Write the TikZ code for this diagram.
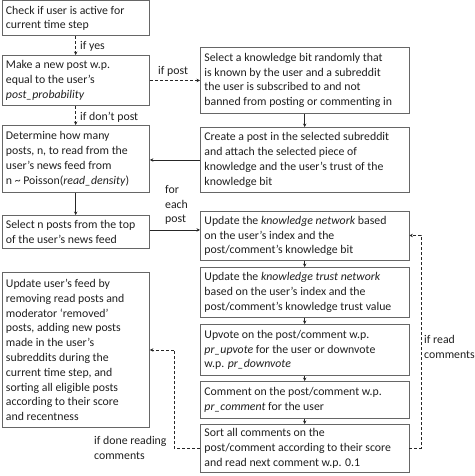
\documentclass[tikz,border=0pt]{standalone}
\usepackage{fontspec}
\setmainfont{Carlito}
\usetikzlibrary{arrows.meta,calc}
\begin{document}
\begin{tikzpicture}[x=1pt,y=-1pt,
  box/.style={draw=black!60, line width=0.9pt, align=flush left, inner xsep=4pt, inner ysep=2pt,
    anchor=north west, font=\fontsize{11.8}{14.8}\selectfont, text=black!88},
  lbox/.style={box, text width=139.5pt},
  rbox/.style={box, text width=200.5pt},
  lbl/.style={font=\fontsize{11.8}{14.8}\selectfont, text=black!88, align=flush left, inner sep=0pt},
  arr/.style={draw=black!85, line width=0.8pt, -{Stealth[length=3.5pt,width=3.5pt]}},
  darr/.style={arr, dash pattern=on 3pt off 2pt}
]
\useasboundingbox (0,0) rectangle (474,476);
% left column
\node[lbox, minimum height=35pt] (A) at (1.5,0.5) {Check if user is active for\\current time step};
\node[lbox, minimum height=50pt] (B) at (1.5,55) {Make a new post w.p.\\equal to the user's\\\textit{post\_probability}};
\node[lbox, minimum height=67pt] (C) at (1.5,125) {Determine how many\\posts, n, to read from the\\user's news feed from\\n \textasciitilde{} Poisson(\textit{read\_density})};
\node[lbox, minimum height=33pt] (D) at (1.5,215) {Select n posts from the top\\of the user's news feed};
\node[lbox, minimum height=155pt] (E) at (1.5,272) {Update user's feed by\\removing read posts and\\moderator `removed'\\posts, adding new posts\\made in the user's\\subreddits during the\\current time step, and\\sorting all eligible posts\\according to their score\\and recentness};
% right column
\node[rbox, minimum height=66pt] (F) at (200,47) {Select a knowledge bit randomly that\\is known by the user and a subreddit\\the user is subscribed to and not\\banned from posting or commenting in};
\node[rbox, minimum height=65pt] (G) at (200,127) {Create a post in the selected subreddit\\and attach the selected piece of\\knowledge and the user's trust of the\\knowledge bit};
\node[rbox, minimum height=49pt] (H) at (200,211) {Update the \textit{knowledge network} based\\on the user's index and the\\post/comment's knowledge bit};
\node[rbox, minimum height=50pt] (I) at (200,267) {Update the \textit{knowledge trust network}\\based on the user's index and the\\post/comment's knowledge trust value};
\node[rbox, minimum height=51pt] (J) at (200,324) {Upvote on the post/comment w.p.\\\textit{pr\_upvote} for the user or downvote\\w.p. \textit{pr\_downvote}};
\node[rbox, minimum height=37pt] (K) at (200,381) {Comment on the post/comment w.p.\\\textit{pr\_comment} for the user};
\node[rbox, minimum height=48pt] (L) at (200,424) {Sort all comments on the\\post/comment according to their score\\and read next comment w.p. 0.1};
% connectors
\draw[darr] (A.south) -- (B.north);
\node[lbl, anchor=west] (lyes) at (80,46) {if yes};
\draw[darr] (B.east) -- (F.west);
\node[lbl, anchor=west] (lpost) at (158,71) {if post};
\draw[darr] (B.south) -- (C.north);
\node[lbl, anchor=west] (ldont) at (80,117) {if don't post};
\draw[arr] (F.south) -- (G.north);
\draw[arr] (G.west) -- (G.west -| C.east);
\draw[arr] (C.south) -- (D.north);
\coordinate (dout) at ($(D.east)+(0,-2)$);
\draw[arr] (dout) -- (dout -| H.west);
\node[lbl, anchor=west] (leach) at (165,205) {for\\each\\post};
\draw[arr] (H.south) -- (I.north);
\draw[arr] (I.south) -- (J.north);
\draw[arr] (J.south) -- (K.north);
\draw[arr] (K.south) -- (L.north);
\coordinate (hin) at ($(H.east)+(0,-0.5)$);
\draw[darr] (L.east) -- ++(12,0) |- (hin);
\node[lbl, anchor=west] (lread) at (424,347) {if read\\comments};
\draw[darr] (L.west) -- ++(-26,0) |- (E.east);
\node[lbl, anchor=west] (ldone) at (94,448) {if done reading\\comments};
\end{tikzpicture}
\end{document}
